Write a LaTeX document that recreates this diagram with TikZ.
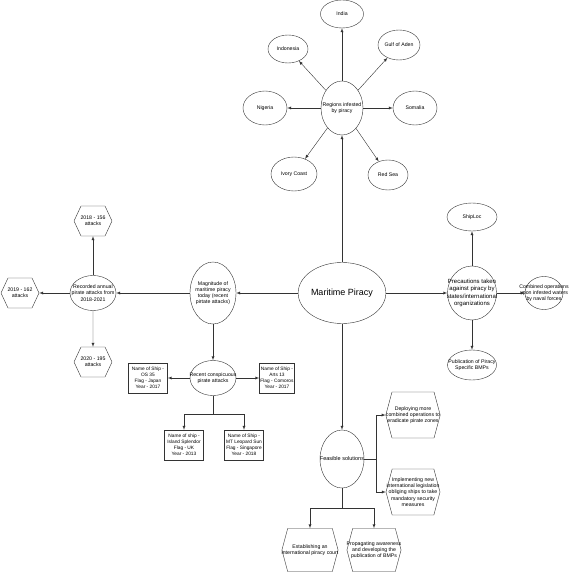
\documentclass[tikz,border=0pt]{standalone}
\usepackage{fontspec}
\setmainfont{Liberation Sans}
\usetikzlibrary{shapes.geometric, shapes.symbols, arrows, positioning}

\begin{document}
\begin{tikzpicture}[on grid, font=\fontsize{5.2}{6.2}\selectfont, topic/.style={
        ellipse,
        draw=black!80,
        align=center,
        inner sep=-12pt,
        minimum width=46pt,
        minimum height=56pt
    }, leaf/.style={
        ellipse,
        draw=black!80,
        align=center,
        inner sep=-12pt,
        minimum width=44pt,
        minimum height=31pt
    }, hexa/.style={
        signal,
        signal to=west and east,
        signal pointer angle=130,
        draw=black!80,
        align=center,
        inner xsep=-6pt,
        inner ysep=0pt,
        minimum width=38pt,
        minimum height=30pt
    }, bighex/.style={
        hexa,
        signal pointer angle=150,
        minimum width=54pt,
        minimum height=46pt
    }, ship/.style={
        rectangle,
        draw=black!80,
        align=center,
        inner sep=0.5pt,
        minimum width=39pt,
        minimum height=30pt,
        font=\fontsize{4.8}{6}\selectfont
    }, arrow/.style={
        thin, draw=black!80, ->, >=latex
    }]
    \useasboundingbox (0,0) rectangle (572pt,-572pt);
    \node (main) [ellipse, draw=black!80, inner sep=0pt, minimum width=74pt, minimum height=61pt, font=\fontsize{9}{11}\selectfont] at (342pt,-293pt) {Maritime Piracy};
    \node (regions) [topic, above=185pt of main, minimum width=42pt, minimum height=54pt] {Regions infested\\by piracy};
    \node (india) [leaf, above=94pt of regions, minimum width=43pt, minimum height=28pt] {India};
    \node (indonesia) [leaf, above left=59pt and 54pt of regions, minimum width=40pt, minimum height=28pt] {Indonesia};
    \node (gulf) [leaf, above right=63pt and 57pt of regions, minimum width=42pt, minimum height=30pt] {Gulf of Aden};
    \node (nigeria) [leaf, left=77pt of regions, minimum height=34pt] {Nigeria};
    \node (somalia) [leaf, right=73pt of regions, minimum height=34pt] {Somalia};
    \node (ivory) [leaf, below left=66pt and 48pt of regions, minimum width=46pt, minimum height=34pt] {Ivory Coast};
    \node (redsea) [leaf, below right=67pt and 46pt of regions, minimum width=40pt, minimum height=30pt] {Red Sea};
    \node (magnitude) [topic, left=129pt of main, minimum height=62pt] {Magnitude of\\maritime piracy\\today (recent\\pirtate attacks)};
    \node (recorded) [leaf, left=120pt of magnitude, minimum width=46pt, minimum height=35pt] {Recorded annual\\pirate attacks from\\2018-2021};
    \node (y2018) [hexa, above=72pt of recorded] {2018 - 156\\attacks};
    \node (y2019) [hexa, left=73pt of recorded] {2019 - 162\\attacks};
    \node (y2020) [hexa, below=69pt of recorded] {2020 - 195\\attacks};
    \node (recent) [leaf, below=85pt of magnitude, minimum width=46pt, minimum height=35pt] {Recent conspicuous\\pirate attacks};
    \node (os35) [ship, left=65pt of recent] {Name of Ship -\\OS 35\\Flag - Japan\\Year - 2017};
    \node (arts13) [ship, right=64pt of recent, minimum width=35pt] {Name of Ship -\\Arts 13\\Flag - Comoros\\Year - 2017};
    \node (island) [ship, below left=67pt and 29pt of recent] {Name of ship -\\Island Splendor\\Flag - UK\\Year - 2013};
    \node (leopard) [ship, below right=67pt and 31pt of recent] {Name of Ship -\\MT Leopard Sun\\Flag - Singapore\\Year - 2018};
    \node (precautions) [topic, right=130pt of main, minimum width=49pt, minimum height=54pt, font=\fontsize{6}{7.5}\selectfont] {Precautions taken\\against piracy by\\states/international\\organizations};
    \node (shiploc) [leaf, above=76pt of precautions, minimum width=50pt, minimum height=28pt] {ShipLoc};
    \node (combined) [leaf, right=72pt of precautions, minimum width=38pt, minimum height=33pt] {Combined operations\\upon infested waters\\by naval forces};
    \node (publication) [leaf, below=72pt of precautions, minimum width=49pt, minimum height=30pt] {Publication of Piracy\\Specific BMPs};
    \node (feasible) [topic, below=166pt of main, minimum width=44pt, minimum height=58pt, font=\fontsize{5.5}{6.5}\selectfont] {Feasible solutions};
    \node (deploying) [bighex, above right=44pt and 71pt of feasible] {Deploying more\\combined operations to\\eradicate pirate zones};
    \node (implementing) [bighex, below right=33pt and 71pt of feasible] {Implementing new\\international legislation\\obliging ships to take\\mandatory security\\measures};
    \node (establishing) [bighex, below left=91pt and 32pt of feasible, minimum width=52pt, minimum height=43pt] {Establishing an\\international piracy court};
    \node (propagating) [bighex, below right=91pt and 32pt of feasible, minimum width=52pt, minimum height=43pt] {Propagating awareness\\and developing the\\publication of BMPs};
    \draw [arrow] (main) -- (regions);
    \draw [arrow] (regions) -- (india);
    \draw [arrow] (regions) -- (indonesia);
    \draw [arrow] (regions) -- (gulf);
    \draw [arrow] (regions) -- (nigeria);
    \draw [arrow] (regions) -- (somalia);
    \draw [arrow] (regions) -- (ivory);
    \draw [arrow] (regions) -- (redsea);
    \draw [arrow] (main) -- (magnitude);
    \draw [arrow] (magnitude) -- (recorded);
    \draw [arrow] (recorded) -- (y2018);
    \draw [arrow] (recorded) -- (y2019);
    \draw [arrow] (recorded) -- (y2020);
    \draw [arrow] (magnitude) -- (recent);
    \draw [arrow] (recent) -- (os35);
    \draw [arrow] (recent) -- (arts13);
    \draw [arrow] (recent.south) -- ++(0,-18pt) -| (island.north);
    \draw [arrow] (recent.south) -- ++(0,-18pt) -| (leopard.north);
    \draw [arrow] (main) -- (precautions);
    \draw [arrow] (precautions) -- (shiploc);
    \draw [arrow] (precautions) -- (combined);
    \draw [arrow] (precautions) -- (publication);
    \draw [arrow] (main) -- (feasible);
    \draw [arrow] (feasible.east) -- ++(12pt,0) |- (deploying.west);
    \draw [arrow] (feasible.east) -- ++(12pt,0) |- (implementing.west);
    \draw [arrow] (feasible.south) -- ++(0,-20pt) -| (establishing.north);
    \draw [arrow] (feasible.south) -- ++(0,-20pt) -| (propagating.north);

\end{tikzpicture}
\end{document}
